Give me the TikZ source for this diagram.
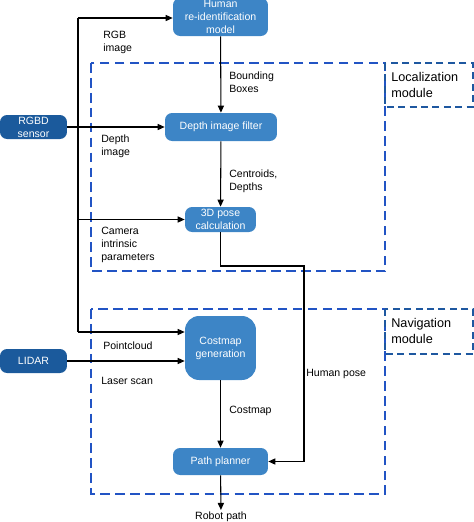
\documentclass[tikz,border=0pt]{standalone}
\usepackage{fontspec}
\setmainfont{Liberation Sans}
\usetikzlibrary{positioning,arrows.meta}
\definecolor{boxblue}{RGB}{61,133,198}
\definecolor{darkblue}{RGB}{27,90,156}
\definecolor{dashblue}{RGB}{34,84,196}
\definecolor{tagblue}{RGB}{30,88,160}
\newcommand{\lbl}{\fontsize{6}{7.3}\selectfont}

\begin{document}
\begin{tikzpicture}[x=0.02cm, y=-0.02cm,
        every node/.style={font=\lbl},
        block/.style={rectangle, rounded corners=4pt, fill=boxblue, text=white, align=center, inner sep=1pt},
        sensor/.style={block, fill=darkblue, minimum width=1.34cm, minimum height=0.48cm},
        module/.style={dashblue, line width=1.1pt, dash pattern=on 5.5pt off 3pt},
        tag/.style={tagblue, line width=1.1pt, dash pattern=on 4pt off 2.5pt},
        txt/.style={anchor=west, align=left, inner sep=0pt},
        flow/.style={line width=0.6pt, -{Triangle[length=4pt,width=3.5pt]}}]
    \useasboundingbox (0,0) rectangle (474,522);
    %modules
    \draw[module] (91,63) rectangle (385,271);
    \draw[tag] (385,63) rectangle (473,107);
    \node[txt, font=\fontsize{7.2}{8.6}\selectfont] (locmod) at (391,85) {Localization\\module};
    \draw[module] (91,309) rectangle (385,494);
    \draw[tag] (385,309) rectangle (473,354);
    \node[txt, font=\fontsize{7.2}{8.6}\selectfont] (navmod) at (391,331) {Navigation\\module};
    %blocks
    \node[block, minimum width=1.9cm, minimum height=0.76cm] (reid) at (220.5,17) {Human\\re-identification\\model};
    \node[sensor] (rgbd) at (33.5,127) {RGBD\\sensor};
    \node[block, minimum width=2.24cm, minimum height=0.56cm] (filter) at (221,127) {Depth image filter};
    \node[block, minimum width=1.42cm, minimum height=0.5cm] (pose) at (220.5,219.5) {3D pose\\calculation};
    \node[block, rounded corners=8pt, minimum width=1.42cm, minimum height=1.28cm] (costmap) at (220.5,348) {Costmap\\generation};
    \node[block, minimum width=1.9cm, minimum height=0.54cm] (planner) at (220.5,461.5) {Path planner};
    \node[sensor] (lidar) at (33.5,361) {LIDAR};
    \node[inner sep=1pt] (robot) at (221,517) {Robot path};
    %labels
    \node[txt] (rgbimg) at (103,42) {RGB\\image};
    \node[txt] (depimg) at (101,146) {Depth\\image};
    \node[txt] (camera) at (101,245) {Camera\\intrinsic\\parameters};
    \node[txt] (bbox) at (229,82) {Bounding\\Boxes};
    \node[txt] (centr) at (229,181) {Centroids,\\Depths};
    \node[txt] (pcloud) at (103,346) {Pointcloud};
    \node[txt] (laser) at (101,381) {Laser scan};
    \node[txt] (cmap) at (229,411) {Costmap};
    \node[txt] (hpose) at (306,374) {Human pose};
    %connectors
    \coordinate (top) at (78,18);
    \coordinate (bot) at (78,332);
    \coordinate (bend) at (304,266);
    \draw[line width=0.6pt] (top) -- (bot);
    \draw[flow] (top) -- (top -| reid.west);
    \draw[flow] (rgbd.east) -- (filter.west);
    \draw[flow] (pose.west -| top) -- (pose.west);
    \draw[flow] (bot) -- (bot -| costmap.west);
    \draw[flow] (lidar.east) -- (lidar.east -| costmap.west);
    \draw[flow] (reid) -- (filter);
    \draw[flow] (filter) -- (pose);
    \draw[flow] (pose.south) |- (bend) |- (planner.east);
    \draw[flow] (costmap) -- (planner);
    \draw[flow] (planner) -- (robot);
\end{tikzpicture}
\end{document}
